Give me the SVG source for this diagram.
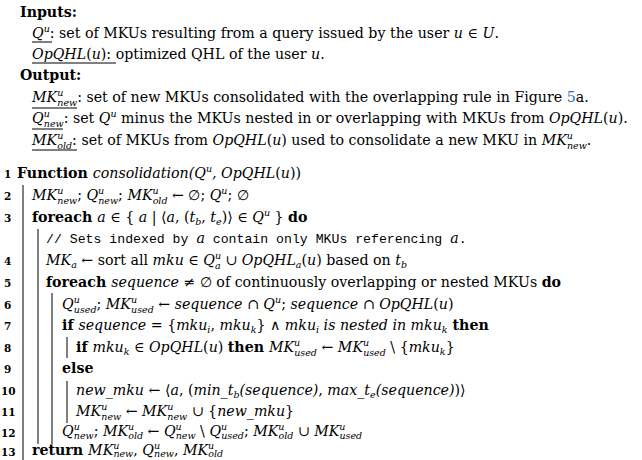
<svg xmlns="http://www.w3.org/2000/svg" width="642" height="460" viewBox="0 0 642 460">
<style>
text{font-family:"DejaVu Serif","Liberation Serif",serif;font-size:14.2px;fill:#000}
.i{font-style:italic}.b{font-weight:bold}
.s{font-style:italic;font-size:9.5px}
.n{font-size:10.5px;font-weight:bold}
.m{font-family:"Liberation Mono","DejaVu Sans Mono",monospace;font-size:13.2px}
.bar{stroke:#000;stroke-width:1}
</style>
<rect width="642" height="460" fill="#fff"/>
<text x="20" y="17" class="b">Inputs:</text>
<text x="32" y="38"><tspan class="i">Q</tspan><tspan class="s" dy="-6">u</tspan><tspan dy="6">: set of MKUs resulting from a query issued by the user </tspan><tspan class="i">u</tspan> ∈ <tspan class="i">U</tspan>.</text>
<text x="32" y="59"><tspan class="i">OpQHL</tspan>(<tspan class="i">u</tspan>): optimized QHL of the user <tspan class="i">u</tspan>.</text>
<text x="20" y="80" class="b">Output:</text>
<text x="32" y="102"><tspan class="i">MK</tspan><tspan class="s" dy="-6">u</tspan><tspan class="s" dx="-6" dy="10">new</tspan><tspan dy="-4">: set of new MKUs consolidated with the overlapping rule in Figure </tspan><tspan fill="#36c">5</tspan>a.</text>
<text x="32" y="123"><tspan class="i">Q</tspan><tspan class="s" dy="-6">u</tspan><tspan class="s" dx="-6" dy="10">new</tspan><tspan dy="-4">: set </tspan><tspan class="i">Q</tspan><tspan class="s" dy="-6">u</tspan><tspan dy="6"> minus the MKUs nested in or overlapping with MKUs from </tspan><tspan class="i">OpQHL</tspan>(<tspan class="i">u</tspan>).</text>
<text x="32" y="145"><tspan class="i">MK</tspan><tspan class="s" dy="-6">u</tspan><tspan class="s" dx="-6" dy="10">old</tspan><tspan dy="-4">: set of MKUs from </tspan><tspan class="i">OpQHL</tspan>(<tspan class="i">u</tspan>) used to consolidate a new MKU in <tspan class="i">MK</tspan><tspan class="s" dy="-6">u</tspan><tspan class="s" dx="-6" dy="10">new</tspan><tspan dy="-4">.</tspan></text>
<g class="bar">
<line x1="32" y1="42" x2="52" y2="42"/>
<line x1="32" y1="63" x2="116" y2="63"/>
<line x1="32" y1="108" x2="77" y2="108"/>
<line x1="32" y1="129" x2="63" y2="129"/>
<line x1="32" y1="150" x2="77" y2="150"/>
<line x1="23" y1="185" x2="23" y2="460"/>
<line x1="38" y1="229" x2="38" y2="444"/>
<line x1="52" y1="293" x2="52" y2="444"/>
<line x1="67" y1="337" x2="67" y2="358"/>
<line x1="67" y1="381" x2="67" y2="423"/>
</g>
<g>
<text x="4" y="178" class="n">1</text><text x="4" y="200" class="n">2</text><text x="4" y="222" class="n">3</text>
<text x="4" y="265" class="n">4</text><text x="4" y="287" class="n">5</text><text x="4" y="309" class="n">6</text>
<text x="4" y="330" class="n">7</text><text x="4" y="352" class="n">8</text><text x="4" y="373" class="n">9</text>
<text x="1" y="395" class="n">10</text><text x="1" y="416" class="n">11</text><text x="1" y="437" class="n">12</text><text x="1" y="456" class="n">13</text>
</g>
<text x="17" y="178"><tspan class="b">Function </tspan><tspan class="i">consolidation(Q</tspan><tspan class="s" dy="-6">u</tspan><tspan class="i" dy="6">, OpQHL</tspan>(<tspan class="i">u</tspan>))</text>
<text x="32" y="200"><tspan class="i">MK</tspan><tspan class="s" dy="-6">u</tspan><tspan class="s" dx="-6" dy="10">new</tspan><tspan dy="-4">; </tspan><tspan class="i">Q</tspan><tspan class="s" dy="-6">u</tspan><tspan class="s" dx="-6" dy="10">new</tspan><tspan dy="-4">; </tspan><tspan class="i">MK</tspan><tspan class="s" dy="-6">u</tspan><tspan class="s" dx="-6" dy="10">old</tspan><tspan dy="-4"> ← ∅; </tspan><tspan class="i">Q</tspan><tspan class="s" dy="-6">u</tspan><tspan dy="6">; ∅</tspan></text>
<text x="32" y="222"><tspan class="b">foreach </tspan><tspan class="i">a</tspan> ∈ { <tspan class="i">a</tspan> | ⟨<tspan class="i">a</tspan>, (<tspan class="i">t</tspan><tspan class="s" dy="3">b</tspan><tspan dy="-3">, </tspan><tspan class="i">t</tspan><tspan class="s" dy="3">e</tspan><tspan dy="-3">)⟩ ∈ </tspan><tspan class="i">Q</tspan><tspan class="s" dy="-6">u</tspan><tspan dy="6"> } </tspan><tspan class="b">do</tspan></text>
<text x="46" y="243" class="m">// Sets indexed by <tspan class="i" style="font-family:'DejaVu Serif',serif;font-size:14.2px">a</tspan> contain only MKUs referencing <tspan class="i" style="font-family:'DejaVu Serif',serif;font-size:14.2px">a</tspan>.</text>
<text x="46" y="265"><tspan class="i">MK</tspan><tspan class="s" dy="3">a</tspan><tspan dy="-3"> ← sort all </tspan><tspan class="i">mku</tspan> ∈ <tspan class="i">Q</tspan><tspan class="s" dy="-6">u</tspan><tspan class="s" dx="-6" dy="10">a</tspan><tspan dy="-4"> ∪ </tspan><tspan class="i">OpQHL</tspan><tspan class="s" dy="3">a</tspan><tspan dy="-3">(</tspan><tspan class="i">u</tspan>) based on <tspan class="i">t</tspan><tspan class="s" dy="3">b</tspan></text>
<text x="46" y="287"><tspan class="b">foreach </tspan><tspan class="i">sequence</tspan> ≠ ∅ of continuously overlapping or nested MKUs <tspan class="b">do</tspan></text>
<text x="62" y="309"><tspan class="i">Q</tspan><tspan class="s" dy="-6">u</tspan><tspan class="s" dx="-6" dy="10">used</tspan><tspan dy="-4">; </tspan><tspan class="i">MK</tspan><tspan class="s" dy="-6">u</tspan><tspan class="s" dx="-6" dy="10">used</tspan><tspan dy="-4"> ← </tspan><tspan class="i">sequence</tspan> ∩ <tspan class="i">Q</tspan><tspan class="s" dy="-6">u</tspan><tspan dy="6">; </tspan><tspan class="i">sequence</tspan> ∩ <tspan class="i">OpQHL</tspan>(<tspan class="i">u</tspan>)</text>
<text x="62" y="330"><tspan class="b">if </tspan><tspan class="i">sequence</tspan> = {<tspan class="i">mku</tspan><tspan class="s" dy="3">i</tspan><tspan dy="-3">, </tspan><tspan class="i">mku</tspan><tspan class="s" dy="3">k</tspan><tspan dy="-3">} ∧ </tspan><tspan class="i">mku</tspan><tspan class="s" dy="3">i</tspan><tspan class="i" dy="-3"> is nested in mku</tspan><tspan class="s" dy="3">k</tspan><tspan class="b" dy="-3"> then</tspan></text>
<text x="76" y="352"><tspan class="b">if </tspan><tspan class="i">mku</tspan><tspan class="s" dy="3">k</tspan><tspan dy="-3"> ∈ </tspan><tspan class="i">OpQHL</tspan>(<tspan class="i">u</tspan>) <tspan class="b">then </tspan> <tspan class="i">MK</tspan><tspan class="s" dy="-6">u</tspan><tspan class="s" dx="-6" dy="10">used</tspan><tspan dy="-4"> ← </tspan><tspan class="i">MK</tspan><tspan class="s" dy="-6">u</tspan><tspan class="s" dx="-6" dy="10">used</tspan><tspan dy="-4"> \ {</tspan><tspan class="i">mku</tspan><tspan class="s" dy="3">k</tspan><tspan dy="-3">}</tspan></text>
<text x="62" y="373" class="b">else</text>
<text x="76" y="395"><tspan class="i">new_mku</tspan> ← ⟨<tspan class="i">a</tspan>, (<tspan class="i">min_t</tspan><tspan class="s" dy="3">b</tspan><tspan class="i" dy="-3">(sequence)</tspan>, <tspan class="i">max_t</tspan><tspan class="s" dy="3">e</tspan><tspan class="i" dy="-3">(sequence)</tspan>)⟩</text>
<text x="76" y="416"><tspan class="i">MK</tspan><tspan class="s" dy="-6">u</tspan><tspan class="s" dx="-6" dy="10">new</tspan><tspan dy="-4"> ← </tspan><tspan class="i">MK</tspan><tspan class="s" dy="-6">u</tspan><tspan class="s" dx="-6" dy="10">new</tspan><tspan dy="-4"> ∪ {</tspan><tspan class="i">new_mku</tspan>}</text>
<text x="62" y="436"><tspan class="i">Q</tspan><tspan class="s" dy="-6">u</tspan><tspan class="s" dx="-6" dy="9">new</tspan><tspan dy="-3">; </tspan><tspan class="i">MK</tspan><tspan class="s" dy="-6">u</tspan><tspan class="s" dx="-6" dy="9">old</tspan><tspan dy="-3"> ← </tspan><tspan class="i">Q</tspan><tspan class="s" dy="-6">u</tspan><tspan class="s" dx="-6" dy="9">new</tspan><tspan dy="-3"> \ </tspan><tspan class="i">Q</tspan><tspan class="s" dy="-6">u</tspan><tspan class="s" dx="-6" dy="9">used</tspan><tspan dy="-3">; </tspan><tspan class="i">MK</tspan><tspan class="s" dy="-6">u</tspan><tspan class="s" dx="-6" dy="9">old</tspan><tspan dy="-3"> ∪ </tspan><tspan class="i">MK</tspan><tspan class="s" dy="-6">u</tspan><tspan class="s" dx="-6" dy="9">used</tspan></text>
<text x="32" y="455"><tspan class="b">return </tspan><tspan class="i">MK</tspan><tspan class="s" dy="-6">u</tspan><tspan class="s" dx="-6" dy="8">new</tspan><tspan dy="-2">, </tspan><tspan class="i">Q</tspan><tspan class="s" dy="-6">u</tspan><tspan class="s" dx="-6" dy="8">new</tspan><tspan dy="-2">, </tspan><tspan class="i">MK</tspan><tspan class="s" dy="-6">u</tspan><tspan class="s" dx="-6" dy="8">old</tspan></text>
</svg>
